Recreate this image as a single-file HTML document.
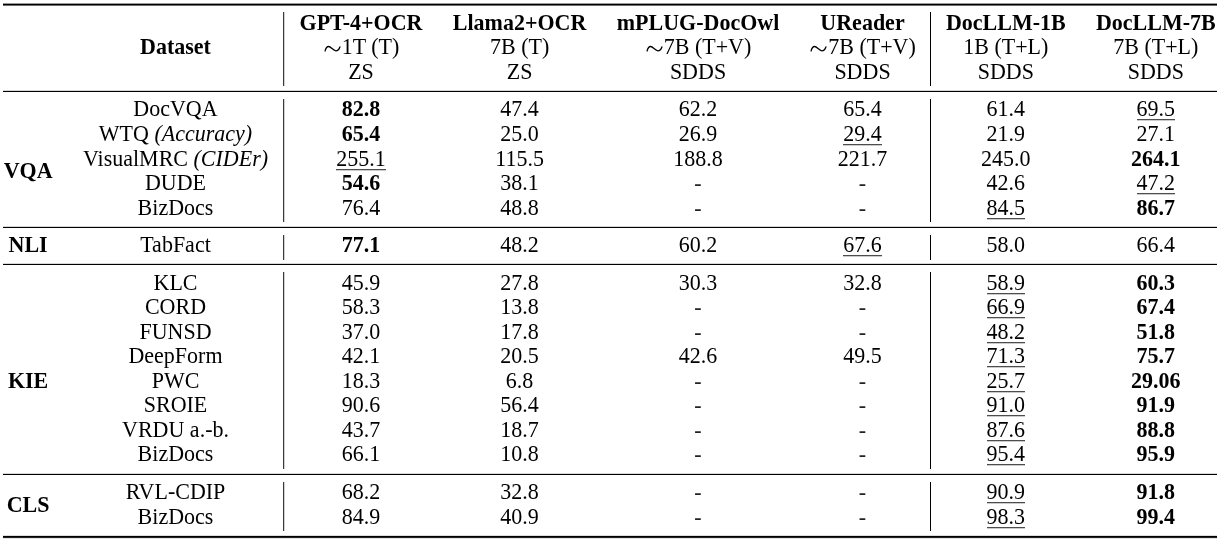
<!DOCTYPE html>
<html><head><meta charset="utf-8"><style>
html,body{margin:0;padding:0;background:#fff;}
#c{will-change:transform;position:relative;width:1224px;height:546px;overflow:hidden;background:#fff;}
.t{position:absolute;width:300px;text-align:center;font-family:"Liberation Serif",serif;font-size:22px;line-height:30px;white-space:nowrap;color:#000;transform:scaleY(1.06);transform-origin:50% 22px;}
.t b{font-weight:bold;}
.t u{text-decoration:none;display:inline-block;position:relative;}
.t u::after{content:"";position:absolute;left:0;right:0;top:25px;height:1px;background:#000;opacity:.85}
.tl{display:inline-block;vertical-align:0;margin-right:0px;position:relative;top:-1px}
.h{position:relative;top:1px;color:#222}
.r{position:absolute;background:#000;}
</style></head><body><div id="c">
<div class="r" style="left:3px;top:3px;width:1214px;height:1px;background:#9a9a9a"></div>
<div class="r" style="left:3px;top:4px;width:1214px;height:1px;background:#000"></div>
<div class="r" style="left:3px;top:5px;width:1214px;height:1px;background:#6a6a6a"></div>
<div class="r" style="left:3px;top:90px;width:1214px;height:1px;background:#d8d8d8"></div>
<div class="r" style="left:3px;top:91px;width:1214px;height:1px;background:#000"></div>
<div class="r" style="left:3px;top:226px;width:1214px;height:1px;background:#d8d8d8"></div>
<div class="r" style="left:3px;top:227px;width:1214px;height:1px;background:#000"></div>
<div class="r" style="left:3px;top:263px;width:1214px;height:1px;background:#d8d8d8"></div>
<div class="r" style="left:3px;top:264px;width:1214px;height:1px;background:#000"></div>
<div class="r" style="left:3px;top:473px;width:1214px;height:1px;background:#d8d8d8"></div>
<div class="r" style="left:3px;top:474px;width:1214px;height:1px;background:#000"></div>
<div class="r" style="left:3px;top:535px;width:1214px;height:1px;background:#dddddd"></div>
<div class="r" style="left:3px;top:536px;width:1214px;height:1px;background:#000"></div>
<div class="r" style="left:3px;top:537px;width:1214px;height:1px;background:#222"></div>
<div class="r" style="left:3px;top:538px;width:1214px;height:1px;background:#e4e4e4"></div>
<div class="r" style="left:283px;top:12px;width:1px;height:74px;background:#3a3a3a"></div>
<div class="r" style="left:284px;top:12px;width:1px;height:74px;background:#d0d0d0"></div>
<div class="r" style="left:283px;top:99px;width:1px;height:123px;background:#3a3a3a"></div>
<div class="r" style="left:284px;top:99px;width:1px;height:123px;background:#d0d0d0"></div>
<div class="r" style="left:283px;top:235px;width:1px;height:25px;background:#3a3a3a"></div>
<div class="r" style="left:284px;top:235px;width:1px;height:25px;background:#d0d0d0"></div>
<div class="r" style="left:283px;top:272px;width:1px;height:197px;background:#3a3a3a"></div>
<div class="r" style="left:284px;top:272px;width:1px;height:197px;background:#d0d0d0"></div>
<div class="r" style="left:283px;top:482px;width:1px;height:49px;background:#3a3a3a"></div>
<div class="r" style="left:284px;top:482px;width:1px;height:49px;background:#d0d0d0"></div>
<div class="r" style="left:930px;top:12px;width:1px;height:74px;background:#000"></div>
<div class="r" style="left:930px;top:99px;width:1px;height:123px;background:#000"></div>
<div class="r" style="left:930px;top:235px;width:1px;height:25px;background:#000"></div>
<div class="r" style="left:930px;top:272px;width:1px;height:197px;background:#000"></div>
<div class="r" style="left:930px;top:482px;width:1px;height:49px;background:#000"></div>
<div class="t " style="left:211.00px;top:8.00px"><b>GPT-4+OCR</b></div>
<div class="t " style="left:211.00px;top:32.00px"><svg class="tl" width="19" height="9" viewBox="0 0 19 9"><path d="M2.1,7.1 C2.8,4.4 4,2.9 5.6,2.9 C8,2.9 10.2,7 12.9,7 C14.5,7 16.1,5.5 16.9,3.3" fill="none" stroke="#000" stroke-width="1.3" stroke-linecap="round"/></svg>1T (T)</div>
<div class="t " style="left:211.00px;top:57.00px">ZS</div>
<div class="t " style="left:369.60px;top:8.00px"><b>Llama2+OCR</b></div>
<div class="t " style="left:369.60px;top:32.00px">7B (T)</div>
<div class="t " style="left:369.60px;top:57.00px">ZS</div>
<div class="t " style="left:548.00px;top:8.00px"><b>mPLUG-DocOwl</b></div>
<div class="t " style="left:548.00px;top:32.00px"><svg class="tl" width="19" height="9" viewBox="0 0 19 9"><path d="M2.1,7.1 C2.8,4.4 4,2.9 5.6,2.9 C8,2.9 10.2,7 12.9,7 C14.5,7 16.1,5.5 16.9,3.3" fill="none" stroke="#000" stroke-width="1.3" stroke-linecap="round"/></svg>7B (T+V)</div>
<div class="t " style="left:548.00px;top:57.00px">SDDS</div>
<div class="t " style="left:712.50px;top:8.00px"><b>UReader</b></div>
<div class="t " style="left:712.50px;top:32.00px"><svg class="tl" width="19" height="9" viewBox="0 0 19 9"><path d="M2.1,7.1 C2.8,4.4 4,2.9 5.6,2.9 C8,2.9 10.2,7 12.9,7 C14.5,7 16.1,5.5 16.9,3.3" fill="none" stroke="#000" stroke-width="1.3" stroke-linecap="round"/></svg>7B (T+V)</div>
<div class="t " style="left:712.50px;top:57.00px">SDDS</div>
<div class="t " style="left:855.80px;top:8.00px"><b>DocLLM-1B</b></div>
<div class="t " style="left:855.80px;top:32.00px">1B (T+L)</div>
<div class="t " style="left:855.80px;top:57.00px">SDDS</div>
<div class="t " style="left:1005.80px;top:8.00px"><b>DocLLM-7B</b></div>
<div class="t " style="left:1005.80px;top:32.00px">7B (T+L)</div>
<div class="t " style="left:1005.80px;top:57.00px">SDDS</div>
<div class="t " style="left:25.50px;top:32.00px"><b>Dataset</b></div>
<div class="t " style="left:-121.90px;top:156.00px"><b>VQA</b></div>
<div class="t " style="left:25.50px;top:94.00px">DocVQA</div>
<div class="t " style="left:211.00px;top:94.00px"><b>82.8</b></div>
<div class="t " style="left:369.60px;top:94.00px">47.4</div>
<div class="t " style="left:548.00px;top:94.00px">62.2</div>
<div class="t " style="left:712.50px;top:94.00px">65.4</div>
<div class="t " style="left:855.80px;top:94.00px">61.4</div>
<div class="t " style="left:1005.80px;top:94.00px"><u>69.5</u></div>
<div class="t " style="left:25.50px;top:119.00px">WTQ <i>(Accuracy)</i></div>
<div class="t " style="left:211.00px;top:119.00px"><b>65.4</b></div>
<div class="t " style="left:369.60px;top:119.00px">25.0</div>
<div class="t " style="left:548.00px;top:119.00px">26.9</div>
<div class="t " style="left:712.50px;top:119.00px"><u>29.4</u></div>
<div class="t " style="left:855.80px;top:119.00px">21.9</div>
<div class="t " style="left:1005.80px;top:119.00px">27.1</div>
<div class="t " style="left:25.50px;top:144.00px">VisualMRC <i>(CIDEr)</i></div>
<div class="t " style="left:211.00px;top:144.00px"><u>255.1</u></div>
<div class="t " style="left:369.60px;top:144.00px">115.5</div>
<div class="t " style="left:548.00px;top:144.00px">188.8</div>
<div class="t " style="left:712.50px;top:144.00px">221.7</div>
<div class="t " style="left:855.80px;top:144.00px">245.0</div>
<div class="t " style="left:1005.80px;top:144.00px"><b>264.1</b></div>
<div class="t " style="left:25.50px;top:168.00px">DUDE</div>
<div class="t " style="left:211.00px;top:168.00px"><b>54.6</b></div>
<div class="t " style="left:369.60px;top:168.00px">38.1</div>
<div class="t " style="left:548.00px;top:168.00px"><span class="h">-</span></div>
<div class="t " style="left:712.50px;top:168.00px"><span class="h">-</span></div>
<div class="t " style="left:855.80px;top:168.00px">42.6</div>
<div class="t " style="left:1005.80px;top:168.00px"><u>47.2</u></div>
<div class="t " style="left:25.50px;top:193.00px">BizDocs</div>
<div class="t " style="left:211.00px;top:193.00px">76.4</div>
<div class="t " style="left:369.60px;top:193.00px">48.8</div>
<div class="t " style="left:548.00px;top:193.00px"><span class="h">-</span></div>
<div class="t " style="left:712.50px;top:193.00px"><span class="h">-</span></div>
<div class="t " style="left:855.80px;top:193.00px"><u>84.5</u></div>
<div class="t " style="left:1005.80px;top:193.00px"><b>86.7</b></div>
<div class="t " style="left:-121.90px;top:230.00px"><b>NLI</b></div>
<div class="t " style="left:25.50px;top:230.00px">TabFact</div>
<div class="t " style="left:211.00px;top:230.00px"><b>77.1</b></div>
<div class="t " style="left:369.60px;top:230.00px">48.2</div>
<div class="t " style="left:548.00px;top:230.00px">60.2</div>
<div class="t " style="left:712.50px;top:230.00px"><u>67.6</u></div>
<div class="t " style="left:855.80px;top:230.00px">58.0</div>
<div class="t " style="left:1005.80px;top:230.00px">66.4</div>
<div class="t " style="left:-121.90px;top:366.00px"><b>KIE</b></div>
<div class="t " style="left:25.50px;top:268.00px">KLC</div>
<div class="t " style="left:211.00px;top:268.00px">45.9</div>
<div class="t " style="left:369.60px;top:268.00px">27.8</div>
<div class="t " style="left:548.00px;top:268.00px">30.3</div>
<div class="t " style="left:712.50px;top:268.00px">32.8</div>
<div class="t " style="left:855.80px;top:268.00px"><u>58.9</u></div>
<div class="t " style="left:1005.80px;top:268.00px"><b>60.3</b></div>
<div class="t " style="left:25.50px;top:292.00px">CORD</div>
<div class="t " style="left:211.00px;top:292.00px">58.3</div>
<div class="t " style="left:369.60px;top:292.00px">13.8</div>
<div class="t " style="left:548.00px;top:292.00px"><span class="h">-</span></div>
<div class="t " style="left:712.50px;top:292.00px"><span class="h">-</span></div>
<div class="t " style="left:855.80px;top:292.00px"><u>66.9</u></div>
<div class="t " style="left:1005.80px;top:292.00px"><b>67.4</b></div>
<div class="t " style="left:25.50px;top:317.00px">FUNSD</div>
<div class="t " style="left:211.00px;top:317.00px">37.0</div>
<div class="t " style="left:369.60px;top:317.00px">17.8</div>
<div class="t " style="left:548.00px;top:317.00px"><span class="h">-</span></div>
<div class="t " style="left:712.50px;top:317.00px"><span class="h">-</span></div>
<div class="t " style="left:855.80px;top:317.00px"><u>48.2</u></div>
<div class="t " style="left:1005.80px;top:317.00px"><b>51.8</b></div>
<div class="t " style="left:25.50px;top:341.00px">DeepForm</div>
<div class="t " style="left:211.00px;top:341.00px">42.1</div>
<div class="t " style="left:369.60px;top:341.00px">20.5</div>
<div class="t " style="left:548.00px;top:341.00px">42.6</div>
<div class="t " style="left:712.50px;top:341.00px">49.5</div>
<div class="t " style="left:855.80px;top:341.00px"><u>71.3</u></div>
<div class="t " style="left:1005.80px;top:341.00px"><b>75.7</b></div>
<div class="t " style="left:25.50px;top:366.00px">PWC</div>
<div class="t " style="left:211.00px;top:366.00px">18.3</div>
<div class="t " style="left:369.60px;top:366.00px">6.8</div>
<div class="t " style="left:548.00px;top:366.00px"><span class="h">-</span></div>
<div class="t " style="left:712.50px;top:366.00px"><span class="h">-</span></div>
<div class="t " style="left:855.80px;top:366.00px"><u>25.7</u></div>
<div class="t " style="left:1005.80px;top:366.00px"><b>29.06</b></div>
<div class="t " style="left:25.50px;top:390.00px">SROIE</div>
<div class="t " style="left:211.00px;top:390.00px">90.6</div>
<div class="t " style="left:369.60px;top:390.00px">56.4</div>
<div class="t " style="left:548.00px;top:390.00px"><span class="h">-</span></div>
<div class="t " style="left:712.50px;top:390.00px"><span class="h">-</span></div>
<div class="t " style="left:855.80px;top:390.00px"><u>91.0</u></div>
<div class="t " style="left:1005.80px;top:390.00px"><b>91.9</b></div>
<div class="t " style="left:25.50px;top:415.00px">VRDU a.-b.</div>
<div class="t " style="left:211.00px;top:415.00px">43.7</div>
<div class="t " style="left:369.60px;top:415.00px">18.7</div>
<div class="t " style="left:548.00px;top:415.00px"><span class="h">-</span></div>
<div class="t " style="left:712.50px;top:415.00px"><span class="h">-</span></div>
<div class="t " style="left:855.80px;top:415.00px"><u>87.6</u></div>
<div class="t " style="left:1005.80px;top:415.00px"><b>88.8</b></div>
<div class="t " style="left:25.50px;top:439.00px">BizDocs</div>
<div class="t " style="left:211.00px;top:439.00px">66.1</div>
<div class="t " style="left:369.60px;top:439.00px">10.8</div>
<div class="t " style="left:548.00px;top:439.00px"><span class="h">-</span></div>
<div class="t " style="left:712.50px;top:439.00px"><span class="h">-</span></div>
<div class="t " style="left:855.80px;top:439.00px"><u>95.4</u></div>
<div class="t " style="left:1005.80px;top:439.00px"><b>95.9</b></div>
<div class="t " style="left:-121.90px;top:490.00px"><b>CLS</b></div>
<div class="t " style="left:25.50px;top:477.00px">RVL-CDIP</div>
<div class="t " style="left:211.00px;top:477.00px">68.2</div>
<div class="t " style="left:369.60px;top:477.00px">32.8</div>
<div class="t " style="left:548.00px;top:477.00px"><span class="h">-</span></div>
<div class="t " style="left:712.50px;top:477.00px"><span class="h">-</span></div>
<div class="t " style="left:855.80px;top:477.00px"><u>90.9</u></div>
<div class="t " style="left:1005.80px;top:477.00px"><b>91.8</b></div>
<div class="t " style="left:25.50px;top:502.00px">BizDocs</div>
<div class="t " style="left:211.00px;top:502.00px">84.9</div>
<div class="t " style="left:369.60px;top:502.00px">40.9</div>
<div class="t " style="left:548.00px;top:502.00px"><span class="h">-</span></div>
<div class="t " style="left:712.50px;top:502.00px"><span class="h">-</span></div>
<div class="t " style="left:855.80px;top:502.00px"><u>98.3</u></div>
<div class="t " style="left:1005.80px;top:502.00px"><b>99.4</b></div>
</div></body></html>
